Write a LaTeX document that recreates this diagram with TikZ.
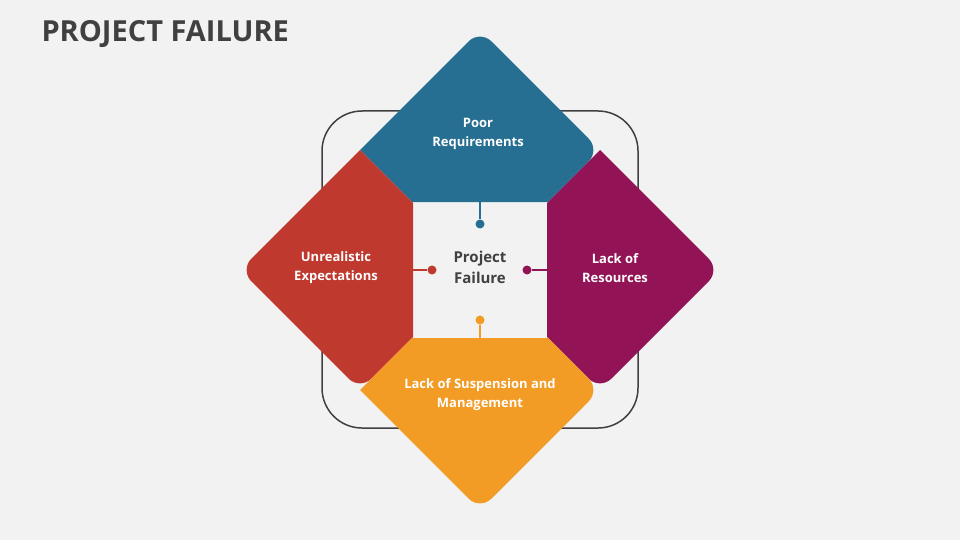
\documentclass[tikz,border=0pt]{standalone}
\usepackage{fontspec}
\setmainfont{Open Sans}
\definecolor{bgc}{HTML}{F2F2F2}
\definecolor{titlec}{HTML}{404040}
\definecolor{bluec}{HTML}{266E92}
\definecolor{redc}{HTML}{C0392F}
\definecolor{purplec}{HTML}{931456}
\definecolor{orangec}{HTML}{F29C26}
\begin{document}
\begin{tikzpicture}[x=1pt,y=-1pt,
    label/.style={text=white, font=\bfseries\fontsize{13}{19}\selectfont, align=center},
    dot/.style={circle, inner sep=0pt, minimum size=9pt},
    stem/.style={line width=2.5pt}]
    \fill[bgc] (0,0) rectangle (960,540);
    \useasboundingbox (0,0) rectangle (960,540);
    \node[anchor=west, text=titlec, font=\bfseries\fontsize{29}{34}\selectfont] (title) at (38,34) {PROJECT FAILURE};
    % outer frame
    \draw[titlec, line width=1.5pt, rounded corners=40] (322,111) rectangle (638,428);
    % petals
    \fill[bluec] (412,202) -- (360,150) [rounded corners=16] -- (480,30) -- (600,150) [sharp corners] -- (548,202) -- cycle;
    \fill[redc] (413,203) -- (360,150) [rounded corners=16] -- (240,270) -- (360,390) [sharp corners] -- (413,337) -- cycle;
    \fill[purplec] (547,203) -- (600,150) [rounded corners=16] -- (720,270) -- (600,390) [sharp corners] -- (547,337) -- cycle;
    \fill[orangec] (412,338) -- (360,390) [rounded corners=16] -- (480,510) -- (600,390) [sharp corners] -- (548,338) -- cycle;
    % labels
    \node[label] (req) at (478,134) {Poor\\Requirements};
    \node[label] (unr) at (336,268) {Unrealistic\\Expectations};
    \node[label] (res) at (615,268) {Lack of\\Resources};
    \node[label] (sus) at (480,395) {Lack of Suspension and\\Management};
    \node[text=titlec, font=\bfseries\fontsize{15}{21}\selectfont, align=center] (pf) at (480,267) {Project\\Failure};
    % connectors
    \coordinate (bs) at (480,202);
    \coordinate (rs) at (413,270);
    \coordinate (ps) at (547,270);
    \coordinate (os) at (480,338);
    \node[dot, fill=bluec] (bd) at (480,224) {};
    \node[dot, fill=redc] (rd) at (432,270) {};
    \node[dot, fill=purplec] (pd) at (527,270) {};
    \node[dot, fill=orangec] (od) at (480,320) {};
    \draw[stem, bluec] (bs) -- (bd);
    \draw[stem, redc] (rs) -- (rd);
    \draw[stem, purplec] (ps) -- (pd);
    \draw[stem, orangec] (os) -- (od);
\end{tikzpicture}
\end{document}
